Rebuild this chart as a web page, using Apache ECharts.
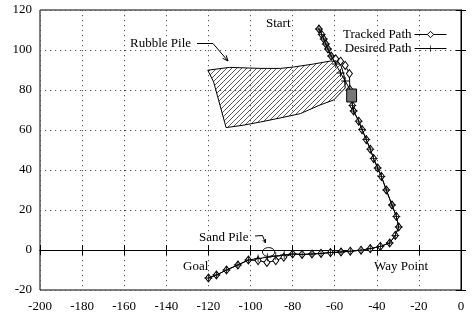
<!DOCTYPE html>
<html>
<head>
<meta charset="utf-8">
<script src="https://cdn.jsdelivr.net/npm/echarts@6/dist/echarts.min.js"></script>
<style>
html,body{margin:0;padding:0;background:#fff;}
#chart{width:474px;height:322px;}
</style>
</head>
<body>
<div id="chart"></div>
<script>
// ---- data ----
var xTicks = [-200, 0, 20];   // min, max, interval
var yTicks = [-20, 120, 20];

var trackedPath = [
  [-67.5,110.5],[-66.2,107.8],[-65.2,105.5],[-64.2,103],[-63.2,100.5],[-61.7,97],
  [-59.5,95.6],[-57.2,94.4],[-55,92.3],[-53,88.2],[-52.8,80.3],[-51.6,72.3],
  [-51,69.5],[-48.6,64.4],[-47,60.2],[-45,55.2],[-43.1,50.4],[-41.5,45.7],
  [-39.6,41],[-37.8,36.8],[-35.5,30],[-32.8,22.5],[-30.7,16.8],[-29.6,11.5],
  [-31.2,7.3],[-33.9,3.5],[-38.3,1.8],[-43.1,0.7],[-47.5,-0.1],[-52.6,-0.6],
  [-57,-1],[-62,-1.3],[-66.5,-1.7],[-70.8,-2],[-75.5,-2.2],[-80,-2],
  [-84.2,-3.6],[-88,-5.3],[-92.2,-6.2],[-96.4,-5.3],[-101,-5],[-106,-7.5],
  [-111.4,-10],[-116.2,-12.5],[-120,-14]
];
var desiredPath = [
  [-67.5,110.5],[-66.2,107.8],[-65.2,105.5],[-64.2,103],[-63.2,100.5],[-61.7,97],
  [-59.5,93],[-57.2,88.5],[-55,84.5],[-52.8,80.3],[-51.6,72.3],
  [-51,69.5],[-48.6,64.4],[-47,60.2],[-45,55.2],[-43.1,50.4],[-41.5,45.7],
  [-39.6,41],[-37.8,36.8],[-35.5,30],[-32.8,22.5],[-30.7,16.8],[-29.6,11.5],
  [-31.2,7.3],[-33.9,3.5],[-38.3,1.8],[-43.1,0.7],[-47.5,-0.1],[-52.6,-0.6],
  [-57,-1],[-62,-1.3],[-66.5,-1.7],[-70.8,-2],[-75.5,-2.2],[-80,-2],
  [-84,-2.5],[-88,-3],[-92,-3.6],[-96.4,-4.3],[-101,-5],[-106,-7.5],
  [-111.4,-10],[-116.2,-12.5],[-120,-14]
];
var rubblePile = [
  [-120.3,89.9],[-110,91.3],[-95,90.8],[-85.8,90.8],[-79.5,91.5],[-70,93],
  [-62,94.5],[-57.5,94],[-55.5,87],[-55,81],[-60.5,75],[-67,72.5],[-76.3,68.2],
  [-86,66],[-95.3,64],[-104,62.3],[-111.6,61.2],[-117.5,84]
];
var obstacleRect = [[-54.3,80.5,-49.6,74]];   // x1,y1,x2,y2
var sandPile = [[-91.4,-1,2.9,2.2]];            // cx,cy,rx,ry
var seriesNames = ['Tracked Path','Desired Path'];

// ---- rendering ----
var FONT = 'Liberation Serif';
var hatch = document.createElement('canvas');
hatch.width = 5; hatch.height = 5;
(function(){
  var c = hatch.getContext('2d');
  c.strokeStyle = '#333'; c.lineWidth = 0.8;
  c.beginPath();
  c.moveTo(0,5); c.lineTo(5,0);
  c.moveTo(-1,1); c.lineTo(1,-1);
  c.moveTo(4,6); c.lineTo(6,4);
  c.stroke();
})();

var plusPath = 'path://M4.5,0H5.5V4.5H10V5.5H5.5V10H4.5V5.5H0V4.5H4.5Z';

function arrow(points, head) {
  var n = points.length;
  var p1 = points[n-2], p2 = points[n-1];
  var dx = p2[0]-p1[0], dy = p2[1]-p1[1];
  var L = Math.sqrt(dx*dx+dy*dy); dx/=L; dy/=L;
  var a = 0.4, hl = head || 6;
  function rot(ang){ var c=Math.cos(ang), s=Math.sin(ang); return [-(dx*c - dy*s)*hl, -(dx*s + dy*c)*hl]; }
  var r1 = rot(a), r2 = rot(-a);
  return [
    {type:'polyline', shape:{points:points}, style:{stroke:'#000', lineWidth:1, fill:null}},
    {type:'polyline', shape:{points:[[p2[0]+r1[0],p2[1]+r1[1]],p2,[p2[0]+r2[0],p2[1]+r2[1]]]}, style:{stroke:'#000', lineWidth:1, fill:null}}
  ];
}
function label(text, x, y) {
  return {type:'text', x:x, y:y, style:{text:text, font:'13px "'+FONT+'"', fill:'#000', textVerticalAlign:'middle', textAlign:'left'}};
}

var graphics = [
  label('Start', 266, 24),
  label('Rubble Pile', 130, 43.5),
  label('Sand Pile', 199, 238),
  label('Goal', 183, 266.5),
  label('Way Point', 374, 267)
].concat(arrow([[197,43.5],[213,43.5],[228,61]], 6))
 .concat(arrow([[255,236],[262.5,235.5],[265.5,243]], 4));

var chart = echarts.init(document.getElementById('chart'), null, {renderer:'canvas'});
var axisLabelStyle = {color:'#000', fontFamily:FONT, fontSize:13};
chart.setOption({
  animation:false,
  grid:{left:40, right:13, top:10, bottom:32, show:true, borderColor:'#000', borderWidth:1},
  legend:{
    data:seriesNames,
    orient:'vertical', align:'right', right:22, top:23,
    itemWidth:32, itemHeight:8, itemGap:1,
    lineStyle:{width:1, color:'#000', type:'solid'},
    itemStyle:{borderWidth:1},
    textStyle:{color:'#000', fontFamily:FONT, fontSize:13, lineHeight:13, padding:[0,-2,0,0]}
  },
  xAxis:[{
    type:'value', min:xTicks[0], max:xTicks[1], interval:xTicks[2],
    axisLine:{lineStyle:{color:'#000'}},
    axisTick:{inside:true, length:5, lineStyle:{color:'#000'}},
    axisLabel:Object.assign({margin:10}, axisLabelStyle),
    splitLine:{show:true, lineStyle:{color:'#555', type:[1.2,3.8], width:1}}
  },{
    type:'value', position:'top', min:xTicks[0], max:xTicks[1], interval:xTicks[2],
    axisLine:{lineStyle:{color:'#000'}},
    axisTick:{inside:true, length:5, lineStyle:{color:'#000'}},
    axisLabel:{show:false}, splitLine:{show:false}
  }],
  yAxis:[{
    type:'value', min:yTicks[0], max:yTicks[1], interval:yTicks[2],
    axisLine:{lineStyle:{color:'#000'}},
    axisTick:{inside:true, length:5, lineStyle:{color:'#000'}},
    axisLabel:Object.assign({margin:8}, axisLabelStyle),
    splitLine:{show:true, lineStyle:{color:'#555', type:[1.2,3.8], width:1}}
  },{
    type:'value', position:'right', min:yTicks[0], max:yTicks[1], interval:yTicks[2],
    axisLine:{lineStyle:{color:'#000'}},
    axisTick:{inside:true, length:5, lineStyle:{color:'#000'}},
    axisLabel:{show:false}, splitLine:{show:false}
  }],
  series:[
    {
      type:'custom', name:'rubble', silent:true, z:1,
      renderItem:function(params, api){
        var pts = rubblePile.map(function(p){ return api.coord(p); });
        return {type:'polygon', shape:{points:pts}, style:{fill:{image:hatch, repeat:'repeat'}, stroke:'#000', lineWidth:1}};
      },
      data:[0]
    },
    {
      type:'custom', name:'obstacle', silent:true, z:4,
      renderItem:function(params, api){
        var a = api.coord([api.value(0), api.value(1)]);
        var b = api.coord([api.value(2), api.value(3)]);
        return {type:'rect', shape:{x:a[0], y:a[1], width:b[0]-a[0], height:b[1]-a[1]}, style:{fill:'#777', stroke:'#000', lineWidth:1}};
      },
      data:obstacleRect
    },
    {
      type:'custom', name:'sand', silent:true, z:5,
      renderItem:function(params, api){
        var c = api.coord([api.value(0), api.value(1)]);
        var s = api.size([api.value(2), api.value(3)]);
        return {type:'ellipse', shape:{cx:c[0], cy:c[1], rx:s[0], ry:s[1]}, style:{fill:null, stroke:'#000', lineWidth:1}};
      },
      data:sandPile
    },
    {
      type:'line', name:seriesNames[0], data:trackedPath, z:2,
      symbol:'diamond', symbolSize:[6,8], showAllSymbol:true,
      lineStyle:{color:'#000', width:1},
      itemStyle:{color:'#fff', borderColor:'#000', borderWidth:1}
    },
    {
      type:'line', name:seriesNames[1], data:desiredPath, z:3,
      symbol:plusPath, symbolSize:8, showAllSymbol:true,
      lineStyle:{color:'#000', width:1},
      itemStyle:{color:'#000', borderColor:'rgba(0,0,0,0)', borderWidth:0}
    }
  ],
  graphic:graphics
});
</script>
</body>
</html>
